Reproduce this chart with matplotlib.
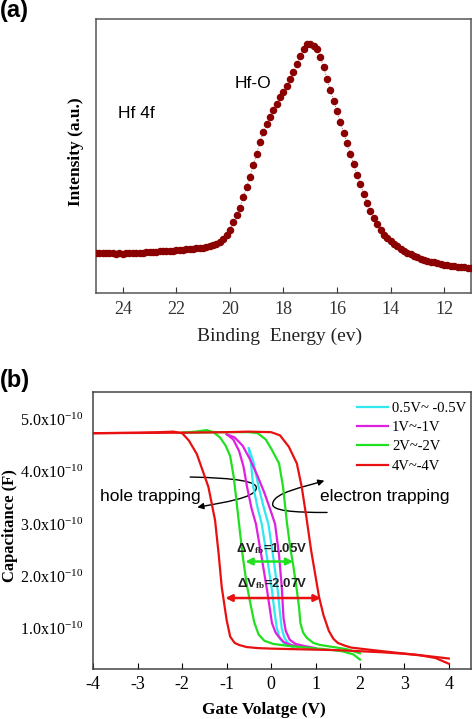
import numpy as np
import matplotlib
matplotlib.use('Agg')
import matplotlib.pyplot as plt
from matplotlib.path import Path
from matplotlib.patches import FancyArrowPatch

plt.rcParams['font.family'] = 'Liberation Serif'
plt.rcParams['mathtext.fontset'] = 'custom'
plt.rcParams['mathtext.rm'] = 'Liberation Serif'
plt.rcParams['mathtext.bf'] = 'Liberation Serif:bold'
plt.rcParams['mathtext.it'] = 'Liberation Serif:italic'
plt.rcParams['axes.unicode_minus'] = False
SANS = 'Liberation Sans'

# ---- (a) XPS Hf 4f spectrum ----
energy = [
    25.0, 24.875, 24.75, 24.625, 24.5, 24.375, 24.25, 24.125, 24.0, 23.875,
    23.75, 23.625, 23.5, 23.375, 23.25, 23.125, 23.0, 22.875, 22.75, 22.625,
    22.5, 22.375, 22.25, 22.125, 22.0, 21.875, 21.75, 21.625, 21.5, 21.375,
    21.25, 21.125, 21.0, 20.875, 20.75, 20.625, 20.5, 20.375, 20.25, 20.125,
    20.0, 19.875, 19.75, 19.625, 19.5, 19.375, 19.25, 19.125, 19.0, 18.875,
    18.75, 18.625, 18.5, 18.375, 18.25, 18.125, 18.0, 17.875, 17.75, 17.625,
    17.5, 17.375, 17.25, 17.125, 17.0, 16.875, 16.75, 16.625, 16.5, 16.375,
    16.25, 16.125, 16.0, 15.875, 15.75, 15.625, 15.5, 15.375, 15.25, 15.125,
    15.0, 14.875, 14.75, 14.625, 14.5, 14.375, 14.25, 14.125, 14.0, 13.875,
    13.75, 13.625, 13.5, 13.375, 13.25, 13.125, 13.0, 12.875, 12.75, 12.625,
    12.5, 12.375, 12.25, 12.125, 12.0, 11.875, 11.75, 11.625, 11.5, 11.375,
    11.25, 11.125, 11.0]
intensity = [
    40.0, 40.2, 39.8, 40.1, 39.6, 39.9, 39.4, 39.7, 39.3, 39.8,
    39.6, 40.2, 40.0, 40.5, 40.3, 40.9, 41.0, 41.3, 41.1, 41.7,
    41.6, 42.0, 42.1, 42.5, 42.7, 43.0, 43.2, 43.6, 43.9, 44.3,
    44.6, 45.0, 45.3, 46.0, 46.8, 48.0, 49.5, 51.5, 54.5, 58.0,
    63.0, 71.0, 78.0, 85.0, 96.0, 106.0, 116.0, 128.0, 139.0, 151.0,
    161.0, 169.0, 176.0, 183.0, 189.0, 196.0, 201.0, 207.0, 214.0, 221.0,
    229.0, 237.0, 244.0, 249.0, 249.0, 247.0, 244.0, 236.0, 226.0, 214.0,
    203.0, 192.0, 182.0, 171.0, 160.0, 150.0, 139.0, 129.0, 118.0, 109.0,
    99.0, 90.0, 82.0, 75.0, 69.0, 63.0, 58.0, 55.0, 52.0, 49.5,
    47.0, 44.5, 42.5, 40.5, 38.8, 37.2, 35.8, 34.5, 33.4, 32.3,
    31.4, 30.6, 29.8, 29.0, 28.4, 27.8, 27.3, 26.8, 26.4, 26.0,
    25.7, 25.4, 25.2]
energy_ticks = [24, 22, 20, 18, 16, 14, 12]

# ---- (b) C-V hysteresis (capacitance in 1e-10 F) ----
v_red_a = [-4.0, -3.0, -2.5, -2.2, -2.0, -1.85, -1.67, -1.55, -1.41, -1.26,
           -1.18, -1.11, -1.0, -0.92, -0.82, -0.72, -0.55, -0.3, 0.0, 0.5,
           1.0, 1.5, 2.0, 2.5, 3.0, 3.5, 4.0]
c_red_a = [4.74, 4.75, 4.76, 4.77, 4.74, 4.60, 4.34, 4.05, 3.71, 3.07,
           2.43, 1.79, 1.16, 0.84, 0.72, 0.68, 0.64, 0.62, 0.61, 0.60,
           0.59, 0.58, 0.56, 0.54, 0.51, 0.47, 0.42]
v_red_b = [-4.0, -2.0, -1.0, -0.5, 0.0, 0.2, 0.4, 0.58, 0.69, 0.8,
           0.9, 1.0, 1.08, 1.18, 1.3, 1.4, 1.5, 1.65, 1.8, 2.2,
           2.83, 3.3, 3.7, 4.0]
c_red_b = [4.74, 4.75, 4.76, 4.77, 4.76, 4.70, 4.48, 4.16, 3.71, 3.1,
           2.5, 2.0, 1.6, 1.25, 0.95, 0.80, 0.72, 0.67, 0.63, 0.59,
           0.53, 0.49, 0.43, 0.32]
v_green_a = [-2.0, -1.7, -1.45, -1.3, -1.15, -1.02, -0.92, -0.84, -0.78, -0.72,
             -0.64, -0.55, -0.46, -0.38, -0.28, -0.15, 0.05, 0.4, 0.8, 1.2,
             1.6, 1.85, 2.0]
c_green_a = [4.75, 4.77, 4.80, 4.76, 4.66, 4.50, 4.30, 3.90, 3.45, 3.0,
             2.4, 1.85, 1.45, 1.12, 0.88, 0.76, 0.70, 0.66, 0.63, 0.60,
             0.56, 0.50, 0.40]
v_green_b = [-2.0, -1.0, -0.5, -0.3, -0.12, 0.0, 0.18, 0.27, 0.36, 0.44,
             0.5, 0.58, 0.63, 0.66, 0.72, 0.8, 0.95, 1.1, 1.4, 1.7, 2.0]
c_green_b = [4.75, 4.76, 4.76, 4.74, 4.62, 4.45, 4.16, 3.71, 3.0, 2.5,
             2.2, 1.73, 1.4, 1.10, 0.92, 0.82, 0.72, 0.68, 0.64, 0.60, 0.52]
v_mag_a = [-1.0, -0.85, -0.72, -0.62, -0.54, -0.44, -0.34, -0.2, -0.09, 0.02,
           0.1, 0.17, 0.28, 0.43, 0.7, 1.0]
c_mag_a = [4.72, 4.62, 4.40, 4.10, 3.71, 3.3, 3.0, 2.3, 1.73, 1.10,
           0.92, 0.84, 0.74, 0.68, 0.64, 0.61]
v_mag_b = [-1.0, -0.82, -0.64, -0.48, -0.32, -0.16, -0.02, 0.09, 0.18, 0.24,
           0.28, 0.33, 0.42, 0.55, 0.75, 1.0]
c_mag_b = [4.72, 4.66, 4.50, 4.25, 3.95, 3.62, 3.28, 3.0, 2.4, 1.8,
           1.2, 0.95, 0.78, 0.70, 0.66, 0.62]
v_cyan_a = [-0.5, -0.45, -0.4, -0.3, -0.21, -0.08, 0.02, 0.08, 0.13, 0.2, 0.3, 0.5]
c_cyan_a = [4.45, 4.15, 3.71, 3.3, 3.0, 2.3, 1.73, 1.3, 1.0, 0.8, 0.7, 0.64]
v_cyan_b = [-0.5, -0.4, -0.28, -0.16, -0.06, 0.06, 0.15, 0.2, 0.24, 0.3, 0.38, 0.5]
c_cyan_b = [4.45, 4.2, 3.71, 3.3, 3.0, 2.3, 1.73, 1.3, 1.0, 0.82, 0.72, 0.66]

sweep_labels = ['0.5V~ -0.5V', '1V~-1V', '2V~-2V', '4V~-4V']
sweep_colors = ['#30e8f0', '#e020e0', '#20e020', '#e81010']
volt_ticks = [-4, -3, -2, -1, 0, 1, 2, 3, 4]
cap_ticks = [1, 2, 3, 4, 5]

fig = plt.figure(figsize=(4.74, 7.19), dpi=100)

# panel (a)
ax1 = fig.add_axes([0.2025, 0.5925, 0.791, 0.381])
ax1.plot(energy, intensity, ls=':', lw=0.7, color='#9a6a6a', zorder=2)
ax1.plot(energy, intensity, ls='none', marker='o', ms=4.4,
         mfc='#8b0000', mec='#8b0000', zorder=3)
ax1.set_xlim(25, 11)
ax1.set_ylim(0, 274)
ax1.set_xticks(energy_ticks)
ax1.set_yticks([])
ax1.tick_params(axis='x', direction='in', length=4, pad=6, labelsize=13,
                colors='#333333')
for sp in ax1.spines.values():
    sp.set_color('#555555')
    sp.set_linewidth(1.1)
ax1.set_xlabel('Binding  Energy (ev)', fontsize=14, color='#222222')
ax1.xaxis.set_label_coords(0.489, -0.128)
ax1.set_ylabel('Intensity (a.u.)', fontsize=12.5, fontweight='bold')
ax1.yaxis.set_label_coords(-0.032, 0.515)
ax1.text(24.18, 180, 'Hf 4f', family=SANS, fontsize=12.5, va='center')
ax1.text(19.84, 210, 'Hf-O', family=SANS, fontsize=12.5, va='center')
fig.text(0.0, 1 - 11 / 719, '(a)', family=SANS, fontweight='bold',
         fontsize=17, va='center', ha='left')

# panel (b)
ax2 = fig.add_axes([0.1968, 0.0691, 0.797, 0.3857])
handles = []
h, = ax2.plot(v_cyan_a, c_cyan_a, color=sweep_colors[0], lw=1.6)
ax2.plot(v_cyan_b, c_cyan_b, color=sweep_colors[0], lw=1.6)
handles.append(h)
h, = ax2.plot(v_mag_a, c_mag_a, color=sweep_colors[1], lw=1.6)
ax2.plot(v_mag_b, c_mag_b, color=sweep_colors[1], lw=1.6)
handles.append(h)
h, = ax2.plot(v_green_a, c_green_a, color=sweep_colors[2], lw=1.6)
ax2.plot(v_green_b, c_green_b, color=sweep_colors[2], lw=1.6)
handles.append(h)
h, = ax2.plot(v_red_a, c_red_a, color=sweep_colors[3], lw=1.6)
ax2.plot(v_red_b, c_red_b, color=sweep_colors[3], lw=1.6)
handles.append(h)

ax2.set_xlim(-4, 4.5)
ax2.set_ylim(0.213, 5.53)
ax2.set_xticks(volt_ticks)
ax2.set_xticklabels([str(v) for v in volt_ticks])
ax2.set_yticks(cap_ticks)
ax2.set_yticklabels([r'$\mathrm{%.1fx10^{-10}}$' % c for c in cap_ticks])
ax2.tick_params(axis='x', direction='in', length=4, pad=5, labelsize=13)
ax2.tick_params(axis='y', length=0, pad=7, labelsize=11.5)
for sp in ax2.spines.values():
    sp.set_color('#444444')
    sp.set_linewidth(1.1)
ax2.set_xlabel('Gate Volatge (V)', fontsize=12.5, fontweight='bold')
ax2.xaxis.set_label_coords(0.451, -0.117)
ax2.set_ylabel('Capacitance (F)', fontsize=12, fontweight='bold')
ax2.yaxis.set_label_coords(-0.198, 0.52)

ax2.legend(handles, sweep_labels, loc='upper left', bbox_to_anchor=(0.698, 0.966),
           frameon=False, fontsize=10.5, handlelength=2.1, handletextpad=0.3,
           labelspacing=0.42, borderpad=0, borderaxespad=0)

# trapping arrows
hole = Path([(-1.82, 3.90), (-0.8, 3.88), (-0.25, 3.82), (-0.34, 3.66),
             (-0.42, 3.50), (-1.0, 3.42), (-1.66, 3.32)],
            [Path.MOVETO, Path.CURVE4, Path.CURVE4, Path.CURVE4,
             Path.CURVE4, Path.CURVE4, Path.CURVE4])
ax2.add_patch(FancyArrowPatch(path=hole, arrowstyle='-|>', mutation_scale=9,
                              color='black', lw=1.0))
elec = Path([(1.26, 3.22), (0.5, 3.22), (-0.02, 3.25), (0.04, 3.40),
             (0.08, 3.60), (0.7, 3.70), (1.20, 3.83)],
            [Path.MOVETO, Path.CURVE4, Path.CURVE4, Path.CURVE4,
             Path.CURVE4, Path.CURVE4, Path.CURVE4])
ax2.add_patch(FancyArrowPatch(path=elec, arrowstyle='-|>', mutation_scale=9,
                              color='black', lw=1.0))
ax2.text(-3.85, 3.52, 'hole trapping', family=SANS, fontsize=12.5, va='center')
ax2.text(1.10, 3.52, 'electron trapping', family=SANS, fontsize=12.5, va='center')

# flat-band shift arrows
ax2.annotate('', xy=(0.50, 2.28), xytext=(-0.58, 2.28),
             arrowprops=dict(arrowstyle='<|-|>', color='#20e020', lw=1.8,
                             mutation_scale=10, shrinkA=0, shrinkB=0))
ax2.annotate('', xy=(1.12, 1.58), xytext=(-1.03, 1.58),
             arrowprops=dict(arrowstyle='<|-|>', color='#e81010', lw=1.8,
                             mutation_scale=10, shrinkA=0, shrinkB=0))
ax2.text(-0.78, 2.52, r'ΔV$_{\mathbf{fb}}$=1.05V', family=SANS, fontsize=9.5,
         fontweight='bold', va='center', color='#222222')
ax2.text(-0.76, 1.85, r'ΔV$_{\mathbf{fb}}$=2.07V', family=SANS, fontsize=9.5,
         fontweight='bold', va='center', color='#222222')
fig.text(0.0, 1 - 381 / 719, '(b)', family=SANS, fontweight='bold',
         fontsize=17, va='center', ha='left')

fig.savefig('out.png', dpi=100)
